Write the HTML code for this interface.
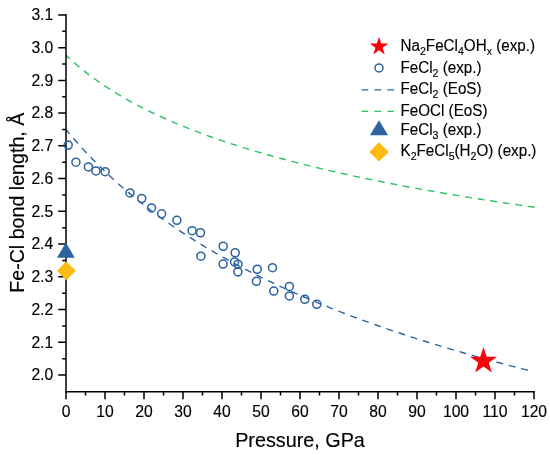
<!DOCTYPE html>
<html><head><meta charset="utf-8"><title>Fe-Cl bond length vs pressure</title>
<style>html,body{margin:0;padding:0;background:#fff}svg{display:block}text{font-family:"Liberation Sans",Arial,sans-serif;fill:#000;stroke:#000;stroke-width:0.15px}.t{font-size:15.7px}.l{font-size:19.8px}.g{font-size:15.6px}.s{font-size:10.9px}</style></head><body>
<svg width="550" height="455" viewBox="0 0 550 455">
<rect width="550" height="455" fill="#fff"/>
<path d="M66.00,55.24 L69.91,58.88 L73.82,62.38 L77.73,65.74 L81.64,68.97 L85.55,72.08 L89.46,75.09 L93.37,77.99 L97.28,80.80 L101.19,83.51 L105.10,86.14 L109.01,88.69 L112.92,91.16 L116.83,93.57 L120.74,95.90 L124.65,98.18 L128.56,100.39 L132.47,102.54 L136.38,104.64 L140.29,106.69 L144.19,108.68 L148.10,110.63 L152.01,112.53 L155.92,114.39 L159.83,116.21 L163.74,117.99 L167.65,119.73 L171.56,121.44 L175.47,123.11 L179.38,124.74 L183.29,126.34 L187.20,127.91 L191.11,129.45 L195.02,130.97 L198.93,132.45 L202.84,133.91 L206.75,135.34 L210.66,136.74 L214.57,138.12 L218.48,139.48 L222.39,140.81 L226.30,142.12 L230.21,143.41 L234.12,144.68 L238.03,145.93 L241.94,147.16 L245.85,148.37 L249.76,149.57 L253.67,150.74 L257.58,151.90 L261.49,153.04 L265.40,154.16 L269.31,155.27 L273.22,156.36 L277.13,157.44 L281.04,158.50 L284.95,159.55 L288.86,160.58 L292.77,161.60 L296.68,162.61 L300.58,163.61 L304.49,164.59 L308.40,165.56 L312.31,166.51 L316.22,167.46 L320.13,168.39 L324.04,169.31 L327.95,170.23 L331.86,171.13 L335.77,172.02 L339.68,172.90 L343.59,173.77 L347.50,174.63 L351.41,175.48 L355.32,176.32 L359.23,177.15 L363.14,177.97 L367.05,178.78 L370.96,179.59 L374.87,180.39 L378.78,181.17 L382.69,181.96 L386.60,182.73 L390.51,183.49 L394.42,184.25 L398.33,185.00 L402.24,185.74 L406.15,186.47 L410.06,187.20 L413.97,187.92 L417.88,188.63 L421.79,189.34 L425.70,190.04 L429.61,190.74 L433.52,191.42 L437.43,192.10 L441.34,192.78 L445.25,193.45 L449.16,194.11 L453.07,194.77 L456.97,195.42 L460.88,196.06 L464.79,196.70 L468.70,197.34 L472.61,197.97 L476.52,198.59 L480.43,199.21 L484.34,199.82 L488.25,200.43 L492.16,201.03 L496.07,201.63 L499.98,202.22 L503.89,202.81 L507.80,203.40 L511.71,203.98 L515.62,204.55 L519.53,205.12 L523.44,205.69 L527.35,206.25 L531.26,206.81 L535.17,207.36" fill="none" stroke="#2cc264" stroke-width="1.4" stroke-dasharray="6.9 5.77" stroke-dashoffset="1.67"/>
<path d="M66.00,129.57 L69.89,134.23 L73.79,138.78 L77.68,143.21 L81.57,147.54 L85.47,151.76 L89.36,155.88 L93.25,159.90 L97.15,163.83 L101.04,167.68 L104.94,171.44 L108.83,175.11 L112.72,178.71 L116.62,182.24 L120.51,185.69 L124.40,189.07 L128.30,192.39 L132.19,195.64 L136.08,198.82 L139.98,201.95 L143.87,205.02 L147.76,208.03 L151.66,210.99 L155.55,213.89 L159.44,216.74 L163.34,219.55 L167.23,222.30 L171.12,225.01 L175.02,227.67 L178.91,230.29 L182.81,232.87 L186.70,235.40 L190.59,237.90 L194.49,240.36 L198.38,242.77 L202.27,245.15 L206.17,247.50 L210.06,249.81 L213.95,252.09 L217.85,254.33 L221.74,256.54 L225.63,258.72 L229.53,260.87 L233.42,262.99 L237.31,265.08 L241.21,267.14 L245.10,269.17 L248.99,271.18 L252.89,273.16 L256.78,275.11 L260.67,277.04 L264.57,278.95 L268.46,280.83 L272.36,282.68 L276.25,284.52 L280.14,286.33 L284.04,288.12 L287.93,289.88 L291.82,291.63 L295.72,293.36 L299.61,295.06 L303.50,296.75 L307.40,298.42 L311.29,300.06 L315.18,301.69 L319.08,303.30 L322.97,304.90 L326.86,306.47 L330.76,308.03 L334.65,309.57 L338.54,311.10 L342.44,312.61 L346.33,314.10 L350.23,315.58 L354.12,317.04 L358.01,318.49 L361.91,319.92 L365.80,321.34 L369.69,322.74 L373.59,324.13 L377.48,325.51 L381.37,326.87 L385.27,328.22 L389.16,329.56 L393.05,330.88 L396.95,332.20 L400.84,333.49 L404.73,334.78 L408.63,336.06 L412.52,337.32 L416.41,338.57 L420.31,339.81 L424.20,341.04 L428.10,342.26 L431.99,343.47 L435.88,344.67 L439.78,345.85 L443.67,347.03 L447.56,348.19 L451.46,349.35 L455.35,350.50 L459.24,351.63 L463.14,352.76 L467.03,353.88 L470.92,354.99 L474.82,356.09 L478.71,357.18 L482.60,358.26 L486.50,359.33 L490.39,360.39 L494.28,361.45 L498.18,362.50 L502.07,363.54 L505.97,364.57 L509.86,365.59 L513.75,366.61 L517.65,367.61 L521.54,368.61 L525.43,369.60 L529.33,370.59 L533.22,371.57" fill="none" stroke="#2d64a0" stroke-width="1.4" stroke-dasharray="6.9 5.88" stroke-dashoffset="1.34"/>
<g stroke="#000" stroke-width="1.5" fill="none">
<path d="M66.00,13.90 V392.80"/>
<path d="M65.00,391.80 H535.00"/>
<path d="M66.00,391.80 v7.4 M105.00,391.80 v7.4 M144.00,391.80 v7.4 M183.00,391.80 v7.4 M222.00,391.80 v7.4 M261.00,391.80 v7.4 M300.00,391.80 v7.4 M339.00,391.80 v7.4 M378.00,391.80 v7.4 M417.00,391.80 v7.4 M456.00,391.80 v7.4 M495.00,391.80 v7.4 M534.00,391.80 v7.4 M85.50,391.80 v3.6 M124.50,391.80 v3.6 M163.50,391.80 v3.6 M202.50,391.80 v3.6 M241.50,391.80 v3.6 M280.50,391.80 v3.6 M319.50,391.80 v3.6 M358.50,391.80 v3.6 M397.50,391.80 v3.6 M436.50,391.80 v3.6 M475.50,391.80 v3.6 M514.50,391.80 v3.6 M66.00,375.04 h-7.8 M66.00,342.30 h-7.8 M66.00,309.56 h-7.8 M66.00,276.82 h-7.8 M66.00,244.08 h-7.8 M66.00,211.34 h-7.8 M66.00,178.60 h-7.8 M66.00,145.86 h-7.8 M66.00,113.12 h-7.8 M66.00,80.38 h-7.8 M66.00,47.64 h-7.8 M66.00,14.90 h-7.8 M66.00,358.67 h-3.8 M66.00,325.93 h-3.8 M66.00,293.19 h-3.8 M66.00,260.45 h-3.8 M66.00,227.71 h-3.8 M66.00,194.97 h-3.8 M66.00,162.23 h-3.8 M66.00,129.49 h-3.8 M66.00,96.75 h-3.8 M66.00,64.01 h-3.8 M66.00,31.27 h-3.8 "/>
</g>
<text class="t" transform="translate(66.0,416.8)" text-anchor="middle">0</text>
<text class="t" transform="translate(105.0,416.8)" text-anchor="middle">10</text>
<text class="t" transform="translate(144.0,416.8)" text-anchor="middle">20</text>
<text class="t" transform="translate(183.0,416.8)" text-anchor="middle">30</text>
<text class="t" transform="translate(222.0,416.8)" text-anchor="middle">40</text>
<text class="t" transform="translate(261.0,416.8)" text-anchor="middle">50</text>
<text class="t" transform="translate(300.0,416.8)" text-anchor="middle">60</text>
<text class="t" transform="translate(339.0,416.8)" text-anchor="middle">70</text>
<text class="t" transform="translate(378.0,416.8)" text-anchor="middle">80</text>
<text class="t" transform="translate(417.0,416.8)" text-anchor="middle">90</text>
<text class="t" transform="translate(456.0,416.8)" text-anchor="middle">100</text>
<text class="t" transform="translate(495.0,416.8)" text-anchor="middle">110</text>
<text class="t" transform="translate(534.0,416.8)" text-anchor="middle">120</text>
<text class="t" transform="translate(53.2,380.2)" text-anchor="end">2.0</text>
<text class="t" transform="translate(53.2,347.5)" text-anchor="end">2.1</text>
<text class="t" transform="translate(53.2,314.8)" text-anchor="end">2.2</text>
<text class="t" transform="translate(53.2,282.0)" text-anchor="end">2.3</text>
<text class="t" transform="translate(53.2,249.3)" text-anchor="end">2.4</text>
<text class="t" transform="translate(53.2,216.5)" text-anchor="end">2.5</text>
<text class="t" transform="translate(53.2,183.8)" text-anchor="end">2.6</text>
<text class="t" transform="translate(53.2,151.1)" text-anchor="end">2.7</text>
<text class="t" transform="translate(53.2,118.3)" text-anchor="end">2.8</text>
<text class="t" transform="translate(53.2,85.6)" text-anchor="end">2.9</text>
<text class="t" transform="translate(53.2,52.8)" text-anchor="end">3.0</text>
<text class="t" transform="translate(53.2,20.1)" text-anchor="end">3.1</text>
<text class="l" x="300" y="446.8" text-anchor="middle">Pressure, GPa</text>
<text class="l" style="font-size:19.65px" transform="translate(23.7,202.7) rotate(-90)" text-anchor="middle">Fe-Cl bond length, Å</text>
<g fill="none" stroke="#2d64a0" stroke-width="1.55">
<circle cx="68.2" cy="145.1" r="4.0"/>
<circle cx="75.9" cy="162.2" r="4.0"/>
<circle cx="88.4" cy="166.9" r="4.0"/>
<circle cx="95.9" cy="170.9" r="4.0"/>
<circle cx="105.1" cy="171.7" r="4.0"/>
<circle cx="130" cy="192.9" r="4.0"/>
<circle cx="141.7" cy="198.5" r="4.0"/>
<circle cx="151.5" cy="207.9" r="4.0"/>
<circle cx="161.6" cy="213.8" r="4.0"/>
<circle cx="176.9" cy="220.3" r="4.0"/>
<circle cx="192.1" cy="230.65" r="4.0"/>
<circle cx="200.5" cy="232.75" r="4.0"/>
<circle cx="200.9" cy="256.15" r="4.0"/>
<circle cx="223.2" cy="246.25" r="4.0"/>
<circle cx="223.1" cy="264.05" r="4.0"/>
<circle cx="235.2" cy="252.75" r="4.0"/>
<circle cx="234.6" cy="261.95" r="4.0"/>
<circle cx="238.0" cy="264.25" r="4.0"/>
<circle cx="237.9" cy="271.85" r="4.0"/>
<circle cx="257.2" cy="269.25" r="4.0"/>
<circle cx="256.4" cy="281.25" r="4.0"/>
<circle cx="272.5" cy="267.65" r="4.0"/>
<circle cx="273.8" cy="291.05" r="4.0"/>
<circle cx="289.4" cy="286.45" r="4.0"/>
<circle cx="289.4" cy="295.95" r="4.0"/>
<circle cx="304.8" cy="299.25" r="4.0"/>
<circle cx="316.8" cy="304.25" r="4.0"/>
</g>
<polygon points="65.9,242.5 57,257.8 74.8,257.8" fill="#2d64a0"/>
<polygon points="66.3,261.4 75.8,270.8 66.3,280.2 56.8,270.8" fill="#fdba14"/>
<polygon points="483.50,346.90 486.69,356.71 497.01,356.71 488.66,362.78 491.85,372.59 483.50,366.52 475.15,372.59 478.34,362.78 469.99,356.71 480.31,356.71" fill="#f80207"/>
<polygon points="379.00,36.70 381.20,43.47 388.32,43.47 382.56,47.66 384.76,54.43 379.00,50.24 373.24,54.43 375.44,47.66 369.68,43.47 376.80,43.47" fill="#f80207"/>
<text class="g" transform="translate(400.5,50.5) scale(0.975,1)">Na<tspan class="s" dy="4.2">2</tspan><tspan dy="-4.2">FeCl</tspan><tspan class="s" dy="4.2">4</tspan><tspan dy="-4.2">OH</tspan><tspan class="s" dy="4.2">x</tspan><tspan dy="-4.2"> (exp.)</tspan></text>
<circle cx="379" cy="67.9" r="4.0" fill="none" stroke="#2d64a0" stroke-width="1.5"/>
<text class="g" transform="translate(400.5,72.75) scale(0.975,1)">FeCl<tspan class="s" dy="4.2">2</tspan><tspan dy="-4.2"> (exp.)</tspan></text>
<path d="M361.5,89.85 H394.2" fill="none" stroke="#2d64a0" stroke-width="1.4" stroke-dasharray="6.7 6.25"/>
<text class="g" transform="translate(400.5,94.2) scale(0.975,1)">FeCl<tspan class="s" dy="4.2">2</tspan><tspan dy="-4.2"> (EoS)</tspan></text>
<path d="M361.5,111.4 H394.2" fill="none" stroke="#2cc264" stroke-width="1.4" stroke-dasharray="6.7 6.25"/>
<text class="g" transform="translate(400.5,115.7) scale(0.975,1)">FeOCl (EoS)</text>
<polygon points="379,120.3 369.9,135.2 388.1,135.2" fill="#2d64a0"/>
<text class="g" transform="translate(400.5,134.6) scale(0.975,1)">FeCl<tspan class="s" dy="4.2">3</tspan><tspan dy="-4.2"> (exp.)</tspan></text>
<polygon points="379,142.3 388.7,151.95 379,161.6 369.3,151.95" fill="#fdba14"/>
<text class="g" transform="translate(400.5,155.6) scale(0.975,1)">K<tspan class="s" dy="4.2">2</tspan><tspan dy="-4.2">FeCl</tspan><tspan class="s" dy="4.2">5</tspan><tspan dy="-4.2">(H</tspan><tspan class="s" dy="4.2">2</tspan><tspan dy="-4.2">O) (exp.)</tspan></text>
</svg></body></html>
